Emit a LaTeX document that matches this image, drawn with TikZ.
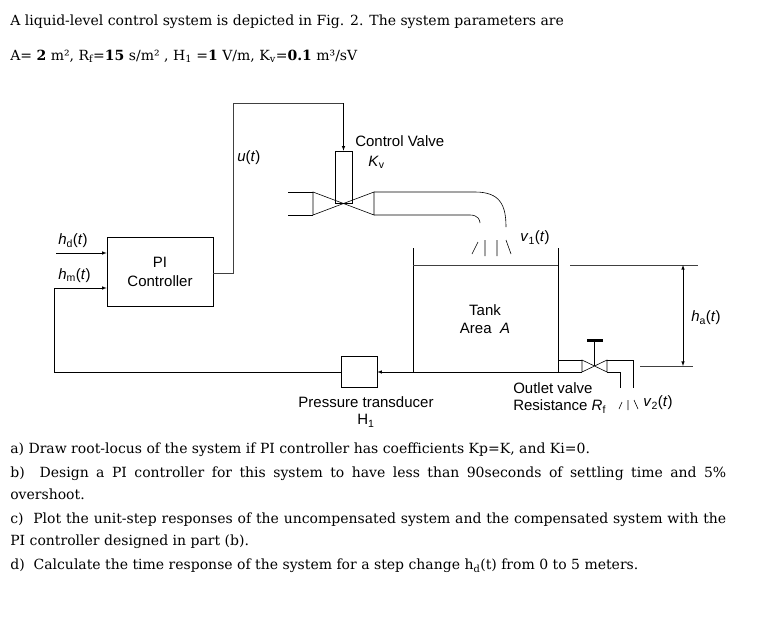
\documentclass[tikz,border=0pt]{standalone}
\usepackage{fontspec}
\setmainfont{DejaVu Serif}
\newfontfamily\diagfont{Liberation Sans}
\begin{document}
\begin{tikzpicture}[
  x=1pt, y=-1pt,
  line width=0.6pt,
  wire/.style={draw, color=black!75},
  arrow/.style={->, >=latex, color=black},
  dblarrow/.style={<->, >=latex, color=black},
  block/.style={draw, rectangle, inner sep=0pt},
  lbl/.style={font=\diagfont\fontsize{15}{17}\selectfont, inner sep=0pt},
  txt/.style={font=\fontsize{14}{17}\selectfont, inner sep=0pt, anchor=base west},
  item/.style={font=\fontsize{14}{22}\selectfont, inner sep=0pt, anchor=north west, text width=716pt, align=justify}
]
    \useasboundingbox (0,0) rectangle (772,625);

    % Header
    \node (head) [txt] at (10,25) {A liquid-level control system is depicted in Fig. 2. The system parameters are};
    \node (param) [txt] at (10,60) {A= \textbf{2} m², R\textsubscript{f}=\textbf{15} s/m² , H\textsubscript{1} =\textbf{1} V/m, K\textsubscript{v}=\textbf{0.1} m³/sV};

    % PI controller
    \node (pi) [block, minimum width=106pt, minimum height=69pt, align=center, lbl] at (160,271.5) {PI\\[2pt]Controller};
    \coordinate (hdin) at (56,253);
    \coordinate (hmin) at (54,288);
    \draw[arrow] (hdin) -- (hdin -| pi.west);
    \draw[arrow] (hmin) -- (hmin -| pi.west);
    \node (hd) [lbl, anchor=south west] at (58,248) {\textit{h}\textsubscript{d}(\textit{t})};
    \node (hm) [lbl, anchor=south west] at (58,283) {\textit{h}\textsubscript{m}(\textit{t})};

    % Control valve
    \node (act) [block, minimum width=17pt, minimum height=52pt] at (343.5,177) {};
    \coordinate (ucorner) at (233,103);
    \coordinate (utop) at (343.5,103);
    \draw[wire] (pi.east |- 0,273) -- (233,273) -- (ucorner) -- (utop);
    \draw[arrow] (utop) -- (act.north);
    \node (u) [lbl, anchor=west] at (237,158) {\textit{u}(\textit{t})};
    \node (cv) [lbl, anchor=west] at (355,141) {Control Valve};
    \node (kv) [lbl, anchor=west] at (368,162) {\textit{K}\textsubscript{v}};
    \draw (288,192) -- (313,192) (288,215) -- (313,215);
    \draw (313,192) -- (313,215) -- (374,192) -- (374,215) -- (313,192) -- cycle;
    \draw (374,192) -- (475,192) .. controls (500,192) and (506,205) .. (506,227);
    \draw (374,215) -- (470,215) .. controls (478,215) and (480,220) .. (480,223);
    \draw (478,242) -- (472,254) (485,240) -- (485,256) (497,240) -- (497,256) (506,240) -- (511,254);
    \node (v1) [lbl, anchor=west] at (520,238) {\textit{v}\textsubscript{1}(\textit{t})};

    % Tank
    \draw (413,248) -- (413,372) -- (558,372) -- (558,248);
    \draw[wire] (413,265) -- (558,265);
    \node (tank) [lbl, align=center] at (485,319) {Tank\\[1pt]Area \ \textit{A}};

    % Level
    \coordinate (lvltop) at (683,265);
    \coordinate (lvlbot) at (683,366);
    \draw[wire] (570,265) -- (698,265) (640,366) -- (693,366);
    \draw[dblarrow] (lvltop) -- (lvlbot);
    \node (ha) [lbl, anchor=west] at (691,318) {\textit{h}\textsubscript{a}(\textit{t})};

    % Pressure transducer
    \node (pt) [block, minimum width=36pt, minimum height=31pt] at (359,371.5) {};
    \coordinate (tankbl) at (413,372);
    \draw[arrow] (tankbl) -- (pt.east |- tankbl);
    \draw (pt.west |- tankbl) -- (54,372) -- (hmin);
    \node (ptl) [lbl, align=center] at (366,412) {Pressure transducer\\[0pt]H\textsubscript{1}};

    % Outlet valve
    \draw (558,360) -- (582,360) (558,372) -- (582,372);
    \draw (582,360) -- (582,372) -- (607,360) -- (607,372) -- (582,360) -- cycle;
    \draw (594.5,366) -- (594.5,341);
    \draw[line width=3pt] (587,340) -- (603,340);
    \draw (607,360) -- (633,360) -- (633,388) (607,372) -- (620,372) -- (620,388);
    \draw (622,402) -- (619,409) (628,400) -- (628,410) (634,400) -- (638,409);
    \node (v2) [lbl, anchor=west] at (643,403) {\textit{v}\textsubscript{2}(\textit{t})};
    \node (ov) [lbl, anchor=west, align=left] at (513,398) {Outlet valve\\[0pt]Resistance \textit{R}\textsubscript{f}};

    % Questions
    \node (qa) [item] at (10,443) {a) Draw root-locus of the system if PI controller has coefficients Kp=K, and Ki=0.};
    \node (qb) [item] at (10,467) {b)\ \ Design a PI controller for this system to have less than 90seconds of settling time and 5\%\linebreak overshoot.};
    \node (qc) [item] at (10,513) {c)\ \ Plot the unit-step responses of the uncompensated system and the compensated system with the PI controller designed in part (b).};
    \node (qd) [item] at (10,559) {d)\ \ Calculate the time response of the system for a step change h\textsubscript{d}(t) from 0 to 5 meters.};
\end{tikzpicture}
\end{document}
